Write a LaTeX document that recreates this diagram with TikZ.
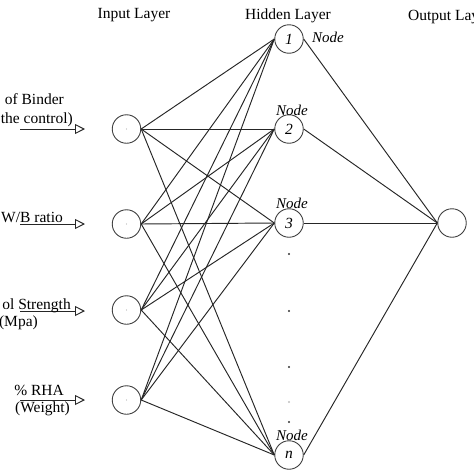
\documentclass[tikz,border=0pt]{standalone}
\usepackage{fontspec}
\setmainfont{Liberation Serif}
\usetikzlibrary{arrows.meta}
\begin{document}
\begin{tikzpicture}[x=1pt,y=-1pt,
  neuron/.style={circle,draw=black!75,line width=0.9pt,minimum size=28.5pt,inner sep=0pt,font=\fontsize{15.5}{15.5}\selectfont\itshape},
  link/.style={draw=black!85,line width=0.95pt},
  lbl/.style={font=\fontsize{15.5}{15.5}\selectfont,inner sep=0pt},
  nlbl/.style={font=\fontsize{15}{15}\selectfont\itshape,inner sep=0pt},
  inarrow/.style={draw=black!85,line width=0.95pt,-{Triangle[open,length=10pt,width=10pt,line width=0.95pt]}},
  vdot/.style={circle,fill=black!80,inner sep=0pt,minimum size=2.2pt}]
\useasboundingbox (0,0) rectangle (474,474);
\clip (0,0) rectangle (474,474);
% layer titles
\node[lbl,anchor=base] (tin) at (134,18) {Input Layer};
\node[lbl,anchor=base] (thid) at (288,19) {Hidden Layer};
\node[lbl,anchor=base west] (tout) at (408,20) {Output Layer};
% input nodes
\node[neuron] (i1) at (126.5,129) {};
\node[neuron] (i2) at (126.5,224) {};
\node[neuron] (i3) at (126.5,310) {};
\node[neuron] (i4) at (126.5,400) {};
\foreach \k in {1,2,3,4}{\fill[black!30] (i\k.center) circle (0.6pt);}
% hidden nodes
\node[neuron] (h1) at (289,39) {1};
\node[neuron] (h2) at (289,129) {2};
\node[neuron] (h3) at (289,223) {3};
\node[neuron] (hn) at (289,455) {n};
% output node
\node[neuron] (o) at (452,223) {};
% node labels
\node[nlbl,anchor=base west] (n1) at (312,42) {Node};
\node[nlbl,anchor=base] (n2) at (292,115) {Node};
\node[nlbl,anchor=base] (n3) at (292,208) {Node};
\node[nlbl,anchor=base] (nn) at (292,440) {Node};
% dots
\node[vdot] (d1) at (289,254) {};
\node[vdot] (d2) at (289,311) {};
\node[vdot] (d3) at (289,367) {};
\node[vdot,fill=black!25] (d4) at (289,402) {};
\node[vdot] (d5) at (289,422) {};
% connections
\foreach \a in {i1,i2,i3,i4}{
  \foreach \b in {h1,h2,h3,hn}{
    \draw[link] (\a.east) -- (\b.west);
  }
}
\foreach \b in {h1,h2,h3,hn}{
  \draw[link] (\b.east) -- (o.west);
}
% input labels and arrows
\coordinate (s1) at (20,129);
\coordinate (s2) at (20,224);
\coordinate (s3) at (20,311);
\coordinate (s4) at (20,400);
\coordinate (e1) at (85,129);
\coordinate (e2) at (85,224);
\coordinate (e3) at (85,311);
\coordinate (e4) at (85,400);
\draw[inarrow] (s1) -- (e1);
\draw[inarrow] (s2) -- (e2);
\draw[inarrow] (s3) -- (e3);
\draw[inarrow] (s4) -- (e4);
\node[lbl,anchor=base east] (l1a) at (64,104) {of Binder};
\node[lbl,anchor=base east] (l1b) at (73,123) {the control)};
\node[lbl,anchor=base east] (l2) at (63,222) {W/B ratio};
\node[lbl,anchor=base east] (l3a) at (71,309) {ol Strength};
\node[lbl,anchor=base east] (l3b) at (38,326) {(Mpa)};
\node[lbl,anchor=base east] (l4a) at (64,395) {\% RHA};
\node[lbl,anchor=base east] (l4b) at (70,412) {(Weight)};
\end{tikzpicture}
\end{document}
